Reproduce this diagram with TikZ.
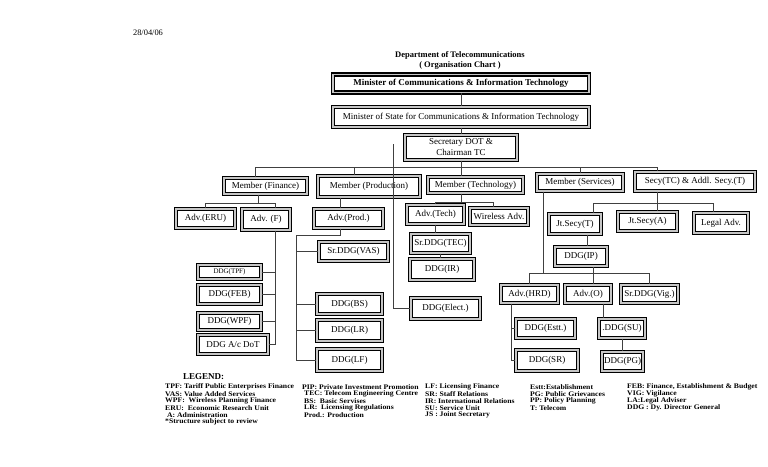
\documentclass[tikz,border=0pt]{standalone}
\usepackage{fontspec}
\setmainfont{Liberation Serif}
\newfontfamily\lgfont[FakeStretch=1.1]{Liberation Serif}
\usetikzlibrary{positioning}
\tikzset{
  ob/.style={draw=black, line width=1.3pt, double=gray!45, double distance=1.2pt, fill=white, inner sep=1pt, align=center, font=\fontsize{9}{11}\selectfont},
  ln/.style={draw=black!75, line width=.6pt},
  lg/.style={anchor=west, inner sep=0pt, font=\lgfont\bfseries\fontsize{7}{8}\selectfont},
}
\begin{document}
\begin{tikzpicture}[x=1pt,y=-1pt]
  \useasboundingbox (0,0) rectangle (768,466);

  \node[font=\fontsize{8.4}{10}\selectfont] (dt) at (148,33) {28/04/06};
  \node[font=\fontsize{8.5}{10}\selectfont\bfseries, align=center] (ttl) at (460,60) {Department of Telecommunications\\( Organisation Chart )};

  % top of the chart
  \node[ob, line width=1.6pt, font=\fontsize{9}{11}\selectfont\bfseries, minimum width=256, minimum height=18] (mct) at (461,83.5) {Minister of Communications \& Information Technology};
  \node[ob, minimum width=256, minimum height=20] (most) at (461,117) {Minister of State for Communications \& Information Technology};
  \node[ob, minimum width=112, minimum height=25] (secy) at (461,147.5) {Secretary DOT \&\\Chairman TC};

  % members
  \node[ob, minimum width=83, minimum height=16] (mfin) at (265.5,186) {Member (Finance)};
  \node[ob, minimum width=102, minimum height=21] (mprod) at (369,186.5) {Member (Production)};
  \node[ob, minimum width=95, minimum height=16] (mtech) at (475.5,185) {Member (Technology)};
  \node[ob, minimum width=86, minimum height=17] (msrv) at (580,182.5) {Member (Services)};
  \node[ob, minimum width=120, minimum height=19] (sct) at (695,181.5) {Secy(TC) \& Addl. Secy.(T)};

  % finance
  \node[ob, minimum width=59, minimum height=19] (aeru) at (205.5,218.5) {Adv.(ERU)};
  \node[ob, minimum width=48, minimum height=21] (af) at (266,219.5) {Adv. (F)};
  \node[ob, font=\fontsize{7}{8}\selectfont, minimum width=63, minimum height=14] (dtpf) at (229.5,272) {DDG(TPF)};
  \node[ob, minimum width=63, minimum height=19] (dfeb) at (229.5,294.5) {DDG(FEB)};
  \node[ob, minimum width=63, minimum height=17] (dwpf) at (229.5,321.5) {DDG(WPF)};
  \node[ob, minimum width=70, minimum height=19] (dacd) at (233,344.5) {DDG A/c DoT};

  % production
  \node[ob, minimum width=69, minimum height=19] (aprod) at (348.5,218.5) {Adv.(Prod.)};
  \node[ob, minimum width=69, minimum height=19] (vas) at (353.5,251.5) {Sr.DDG(VAS)};
  \node[ob, minimum width=65, minimum height=20] (dbs) at (349.5,304) {DDG(BS)};
  \node[ob, minimum width=65, minimum height=21] (dlr) at (349.5,330.5) {DDG(LR)};
  \node[ob, minimum width=65, minimum height=22] (dlf) at (349.5,360) {DDG(LF)};

  % technology
  \node[ob, minimum width=57, minimum height=19] (atech) at (435.5,214.5) {Adv.(Tech)};
  \node[ob, minimum width=58, minimum height=17] (wadv) at (499,216.5) {Wireless Adv.};
  \node[ob, minimum width=59, minimum height=19] (tec) at (440.5,243.5) {Sr.DDG(TEC)};
  \node[ob, minimum width=64, minimum height=21] (dir) at (442,269.5) {DDG(IR)};
  \node[ob, minimum width=69, minimum height=21] (delec) at (445.5,308.5) {DDG(Elect.)};

  % secy (tc)
  \node[ob, minimum width=52, minimum height=20] (jst) at (575,224) {Jt.Secy(T)};
  \node[ob, minimum width=59, minimum height=19] (jsa) at (647.5,221.5) {Jt.Secy(A)};
  \node[ob, minimum width=54, minimum height=20] (ladv) at (721,223) {Legal Adv.};
  \node[ob, minimum width=52, minimum height=19] (dip) at (581,256.5) {DDG(IP)};

  % services
  \node[ob, minimum width=57, minimum height=18] (ahrd) at (529.5,294) {Adv.(HRD)};
  \node[ob, minimum width=46, minimum height=18] (ao) at (588,294) {Adv.(O)};
  \node[ob, minimum width=57, minimum height=18] (vig) at (649.5,294) {Sr.DDG(Vig.)};
  \node[ob, minimum width=59, minimum height=19] (estt) at (545.5,328.5) {DDG(Estt.)};
  \node[ob, minimum width=62, minimum height=21] (dsr) at (547,360.5) {DDG(SR)};
  \node[ob, minimum width=46, minimum height=19] (dsu) at (622,328.5) {.DDG(SU)};
  \node[ob, minimum width=41, minimum height=19] (dpg) at (622.5,361.5) {DDG(PG)};

  % connectors
  \coordinate (mbus) at (0,167);
  \coordinate (tbus) at (0,202);
  \coordinate (fbus) at (0,203);
  \coordinate (sbus) at (0,273);
  \coordinate (finIn) at ([xshift=-10]mfin.north);
  \coordinate (prodIn) at ([xshift=-15]mprod.north);
  \coordinate (sctIn) at ([xshift=-38]sct.north);
  \draw[ln] (mct) -- (most);
  \draw[ln] (most) -- (secy);
  \draw[ln] (finIn) |- (sctIn |- mbus) -- (sctIn);
  \draw[ln] (prodIn) -- (prodIn |- mbus);
  \draw[ln] (msrv.north) -- (msrv.north |- mbus);
  \draw[ln] (secy.south) -- (secy.south |- mtech.north);

  \coordinate (finOut) at ([xshift=-7.5]mfin.south);
  \coordinate (afIn) at ([xshift=9]af.north);
  \coordinate (fcol) at ([xshift=9]af.south);
  \draw[ln] (finOut) -- (finOut |- fbus);
  \draw[ln] (aeru.north) |- (afIn |- fbus) -- (afIn);
  \draw[ln] (fcol) |- (dacd.east);
  \foreach \d in {dtpf,dfeb,dwpf}
    \draw[ln] (\d.east) -- (\d.east -| fcol);

  \coordinate (pcol) at ([xshift=-8]aprod.north);
  \coordinate (pOut) at ([xshift=-8]aprod.south);
  \coordinate (pbar) at (296,235);
  \draw[ln] (pcol) -- (pcol |- mprod.south);
  \draw[ln] (pOut) |- (pbar) |- (dlf.west);
  \foreach \d in {vas,dbs,dlr}
    \draw[ln] (\d.west) -- (\d.west -| pbar);

  \coordinate (wadvIn) at ([xshift=-6]wadv.north);
  \coordinate (elecTop) at (393,144);
  \draw[ln] (secy.south |- mtech.south) -- (secy.south |- tbus);
  \draw[ln] (atech.north) |- (wadvIn |- tbus) -- (wadvIn);
  \draw[ln] (atech.south) -- (atech.south |- tec.north);
  \draw[ln] (tec.south) -- (tec.south |- dir.north);
  \draw[ln] (elecTop) |- (delec.west);

  \coordinate (jstIn) at ([xshift=18]jst.north);
  \coordinate (ladvIn) at ([xshift=-8]ladv.north);
  \coordinate (jstOut) at ([xshift=12]jst.south);
  \draw[ln] (jstIn) |- (ladvIn |- fbus) -- (ladvIn);
  \draw[ln] (sctIn |- sct.south) -- (sctIn |- jsa.north);
  \draw[ln] (jstOut) -- (jstOut |- dip.north);

  \coordinate (srvOut) at ([xshift=-37]msrv.south);
  \coordinate (aoIn) at ([xshift=5]ao.north);
  \coordinate (oOut) at ([xshift=15]ao.south);
  \coordinate (hcol) at ([xshift=-18]ahrd.south);
  \draw[ln] (srvOut) -- (srvOut |- sbus);
  \draw[ln] (ahrd.north) |- (vig.north |- sbus) -- (vig.north);
  \draw[ln] (aoIn) -- (aoIn |- dip.south);
  \draw[ln] (hcol) |- (dsr.west);
  \draw[ln] (estt.west) -- (estt.west -| hcol);
  \draw[ln] (oOut) -- (oOut |- dsu.north);
  \draw[ln] (dsu.south) -- (dsu.south |- dpg.north);

  % legend
  \node[anchor=west, inner sep=0pt, font=\fontsize{9}{9}\selectfont\bfseries] (lgd) at (183,377) {LEGEND:};
  \foreach \t [count=\i from 0] in {{TPF: Tariff Public Enterprises Finance},{VAS: Value Added Services},{WPF:\ \ Wireless Planning Finance},{ERU:\ \ Economic Research Unit},{\ A: Administration},{*Structure subject to review}}
    \node[lg] (lga\i) at (165,387+7*\i) {\t};
  \foreach \t [count=\i from 0] in {{PIP: Private Investment Promotion},{\ TEC: Telecom Engineering Centre},{\ BS:\ \ Basic Servises},{\ LR:\ \ Licensing Regulations},{\ Prod.: Production}}
    \node[lg] (lgb\i) at (302,387+7*\i) {\t};
  \foreach \t [count=\i from 0] in {{LF: Licensing Finance},{SR: Staff Relations},{IR: International Relations},{SU: Service Unit},{JS : Joint Secretary}}
    \node[lg] (lgc\i) at (425,387+7*\i) {\t};
  \foreach \t [count=\i from 0] in {{Estt:Establishment},{PG: Public Grievances},{PP: Policy Planning},{T: Telecom}}
    \node[lg] (lgd\i) at (530,387+7*\i) {\t};
  \foreach \t [count=\i from 0] in {{FEB: Finance, Establishment \& Budget},{VIG: Vigilance},{LA:Legal Adviser},{DDG : Dy. Director General}}
    \node[lg] (lge\i) at (627,387+7*\i) {\t};
\end{tikzpicture}
\end{document}
